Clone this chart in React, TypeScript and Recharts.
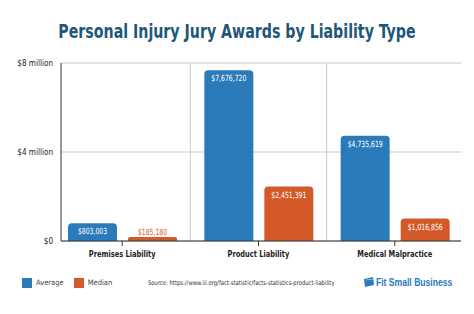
import { BarChart, Bar, XAxis, YAxis, CartesianGrid, Legend, LabelList } from 'recharts'

const categories = ['Premises Liability', 'Product Liability', 'Medical Malpractice']
const averageAwards = [803003, 7676720, 4735619]
const medianAwards = [185180, 2451391, 1016856]
const yTicks = [0, 4000000, 8000000]
const yTickLabels = ['$0', '$4 million', '$8 million']

const data = categories.map((name, i) => ({
  name,
  average: averageAwards[i],
  median: medianAwards[i],
}))

const BLUE = '#2b7bba'
const ORANGE = '#d35a28'
const FONT = "'DejaVu Sans Condensed', 'DejaVu Sans', sans-serif"
const PAD_L = -7
const PAD_R = -2

const money = (v: number) => '$' + v.toLocaleString('en-US')

// squeezed svg text, the original uses a narrow face we don't have
function Narrow({ x, y, sx, anchor, size, weight, fill, children }: any) {
  return (
    <g transform={`translate(${x},${y}) scale(${sx},1)`}>
      <text
        x={0}
        y={0}
        textAnchor={anchor}
        dominantBaseline="central"
        fontSize={size}
        fontWeight={weight}
        fontFamily={FONT}
        fill={fill}
      >
        {children}
      </text>
    </g>
  )
}

const barLabel = (color: string) => (props: any) => {
  const { x, y, width, height, value } = props
  const inside = height > 14
  return (
    <Narrow
      x={x + width / 2}
      y={inside ? y + 8.5 : y - 5}
      sx={0.8}
      anchor="middle"
      size={8.5}
      fill={inside ? '#fff' : color}
    >
      {money(value)}
    </Narrow>
  )
}

const XTick = (props: any) => {
  const { x, y, payload } = props
  return (
    <Narrow x={x} y={y + 6} sx={0.78} anchor="middle" size={9.5} weight={700} fill="#222">
      {payload.value}
    </Narrow>
  )
}

const YTick = (props: any) => {
  const { x, y, payload } = props
  return (
    <Narrow x={x + 6} y={y} sx={0.85} anchor="end" size={9.5} fill="#222">
      {yTickLabels[yTicks.indexOf(payload.value)]}
    </Narrow>
  )
}

const vertLines = ({ offset }: any) => {
  const w = (offset.width - PAD_L - PAD_R) / categories.length
  const start = offset.left + PAD_L
  return categories.slice(1).map((_, i) => start + w * (i + 1))
}

export default function App() {
  return (
    <div style={{ position: 'absolute', left: 0, top: 0, width: 474, height: 314, background: '#fff' }}>
      <div
        style={{
          position: 'absolute',
          left: 0,
          top: 19,
          width: 474,
          textAlign: 'center',
          fontFamily: FONT,
          fontWeight: 700,
          fontSize: 19,
          lineHeight: '24px',
          color: '#1e5878',
          transform: 'scaleX(0.83)',
        }}
      >
        Personal Injury Jury Awards by Liability Type
      </div>
      <BarChart
        width={474}
        height={314}
        data={data}
        margin={{ top: 63, right: 13, bottom: 43, left: 0 }}
        barSize={49}
        barGap={11}
      >
        <CartesianGrid stroke="#c8c8c8" verticalCoordinatesGenerator={vertLines} />
        <XAxis
          dataKey="name"
          height={30}
          padding={{ left: PAD_L, right: PAD_R }}
          stroke="#333"
          tickSize={5}
          tick={<XTick />}
          interval={0}
        />
        <YAxis
          width={61}
          domain={[0, 8000000]}
          ticks={yTicks}
          stroke="#333"
          tickLine={false}
          tickMargin={8}
          tick={<YTick />}
        />
        <Legend
          verticalAlign="middle"
          align="center"
          iconType="square"
          iconSize={10}
          wrapperStyle={{ left: 22, top: 277, width: 'auto', fontFamily: FONT, fontSize: 7.5, lineHeight: '12px' }}
          formatter={(value: string) => <span style={{ color: '#444' }}>{value}</span>}
        />
        <Bar dataKey="average" name="Average" fill={BLUE} radius={[4, 4, 0, 0]} isAnimationActive={false}>
          <LabelList dataKey="average" content={barLabel(BLUE)} />
        </Bar>
        <Bar dataKey="median" name="Median" fill={ORANGE} radius={[4, 4, 0, 0]} isAnimationActive={false}>
          <LabelList dataKey="median" content={barLabel(ORANGE)} />
        </Bar>
      </BarChart>
      <div
        style={{
          position: 'absolute',
          left: 148,
          top: 279,
          fontFamily: FONT,
          fontSize: 6.5,
          color: '#333',
          whiteSpace: 'nowrap',
          transform: 'scaleX(0.9)',
          transformOrigin: 'left center',
        }}
      >
        Source: https://www.iii.org/fact-statistic/facts-statistics-product-liability
      </div>
      <div
        style={{
          position: 'absolute',
          left: 363,
          top: 276,
          display: 'flex',
          alignItems: 'center',
          fontFamily: "'Liberation Sans', sans-serif",
          fontWeight: 700,
          fontSize: 11,
          color: '#2a7abf',
          whiteSpace: 'nowrap',
        }}
      >
        <svg width={12} height={10} style={{ marginRight: 1 }}>
          <path d="M1 2 L10 0 L11 8 L2 10 Z" fill="#2a7abf" />
          <path d="M3 3 L10 2" stroke="#8cc0e6" strokeWidth={1} />
        </svg>
        <span style={{ display: 'inline-block', transform: 'scaleX(0.78)', transformOrigin: 'left center' }}>
          Fit Small Business
        </span>
      </div>
    </div>
  )
}
